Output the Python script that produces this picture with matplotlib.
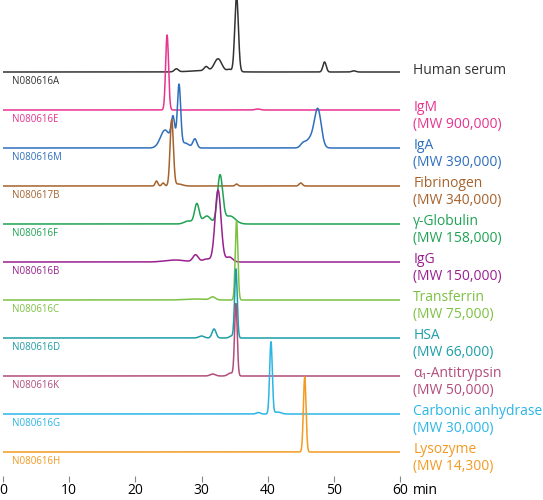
import numpy as np
import matplotlib
matplotlib.use('Agg')
from matplotlib import pyplot as plt

plt.rcParams['font.family'] = ['Open Sans', 'DejaVu Sans']

# sample data: name, molecular weight, sample id, colour
names = ['Human serum', 'IgM', 'IgA', 'Fibrinogen', 'γ-Globulin', 'IgG',
         'Transferrin', 'HSA', 'α₁-Antitrypsin', 'Carbonic anhydrase', 'Lysozyme']
mw = ['', '900,000', '390,000', '340,000', '158,000', '150,000',
      '75,000', '66,000', '50,000', '30,000', '14,300']
sample_ids = ['N080616A', 'N080616E', 'N080616M', 'N080617B', 'N080616F', 'N080616B',
              'N080616C', 'N080616D', 'N080616K', 'N080616G', 'N080616H']
colors = ['#333333', '#e8338f', '#2e6fbd', '#a5622c', '#1fa253', '#9a1f8f',
          '#7dc143', '#1d9ea6', '#b24c7b', '#2cb5e6', '#f39a22']

# peaks: (retention time min, height, width min)
peaks = [
    [(26.2, 3, 0.3), (31.0, 1.5, 2.5), (30.7, 4, 0.3), (32.5, 12, 0.55), (34.2, 2, 0.3),
     (35.3, 76, 0.27), (48.6, 10, 0.25), (53.0, 1.2, 0.3)],
    [(24.8, 75, 0.22), (38.5, 1, 0.4)],
    [(24.5, 18, 0.7), (25.7, 28, 0.28), (26.6, 62, 0.25), (27.5, 5, 0.6), (29.0, 9, 0.3),
     (45.3, 3, 0.35), (46.6, 10, 0.8), (47.6, 35, 0.5)],
    [(23.2, 5, 0.2), (24.2, 3, 0.2), (25.5, 66, 0.25), (26.5, 2, 0.6), (35.3, 2, 0.2),
     (45.0, 3, 0.25)],
    [(28.0, 3, 0.6), (29.3, 20, 0.35), (30.8, 8, 0.6), (32.8, 48, 0.4), (34.3, 8, 0.8)],
    [(26.0, 2, 1.5), (29.1, 7, 0.4), (30.8, 3, 0.6), (32.5, 72, 0.45), (34.2, 5, 0.5)],
    [(29.0, 1, 1.5), (31.7, 3, 0.4), (35.3, 79, 0.2)],
    [(30.0, 2, 0.4), (31.9, 9, 0.3), (34.5, 2, 0.3), (35.2, 69, 0.2)],
    [(31.7, 2, 0.4), (34.4, 3, 0.4), (35.2, 72, 0.2)],
    [(38.6, 1.5, 0.3), (40.5, 72, 0.2), (41.5, 2, 0.5)],
    [(45.6, 75, 0.2)],
]

t = np.linspace(0, 60, 2401)

fig = plt.figure(figsize=(5.43, 5.00), dpi=100)
ax = fig.add_axes([3 / 543, 24 / 500, 397 / 543, 476 / 500])
ax.set_xlim(0, 60)
ax.set_ylim(0, 476)

spacing = 38
for i, name in enumerate(names):
    base = 24 + spacing * (len(names) - 1 - i)
    y = np.zeros_like(t)
    for rt, h, w in peaks[i]:
        y += h * np.exp(-0.5 * ((t - rt) / w) ** 2)
    ax.plot(t, base + y, color=colors[i], lw=1.1)
    ax.text(1.3, base - 9, sample_ids[i], color=colors[i], fontsize=7, va='center', ha='left')
    if mw[i]:
        label = name + '\n(MW ' + mw[i] + ')'
        ax.text(62, base - 6, label, color=colors[i], fontsize=10, va='center',
                ha='left', linespacing=1.2, clip_on=False)
    else:
        ax.text(62, base + 2, name, color=colors[i], fontsize=10, va='center',
                ha='left', clip_on=False)

for s in ax.spines.values():
    s.set_visible(False)
ax.set_yticks([])
ax.set_xticks([0, 10, 20, 30, 40, 50, 60])
ax.tick_params(axis='x', length=4.5, width=0.8, color='#888888', labelsize=10, pad=0.5)
ax.text(62, -14.5, 'min', fontsize=10, va='center', ha='left', clip_on=False)

fig.savefig('out.png', dpi=100)
